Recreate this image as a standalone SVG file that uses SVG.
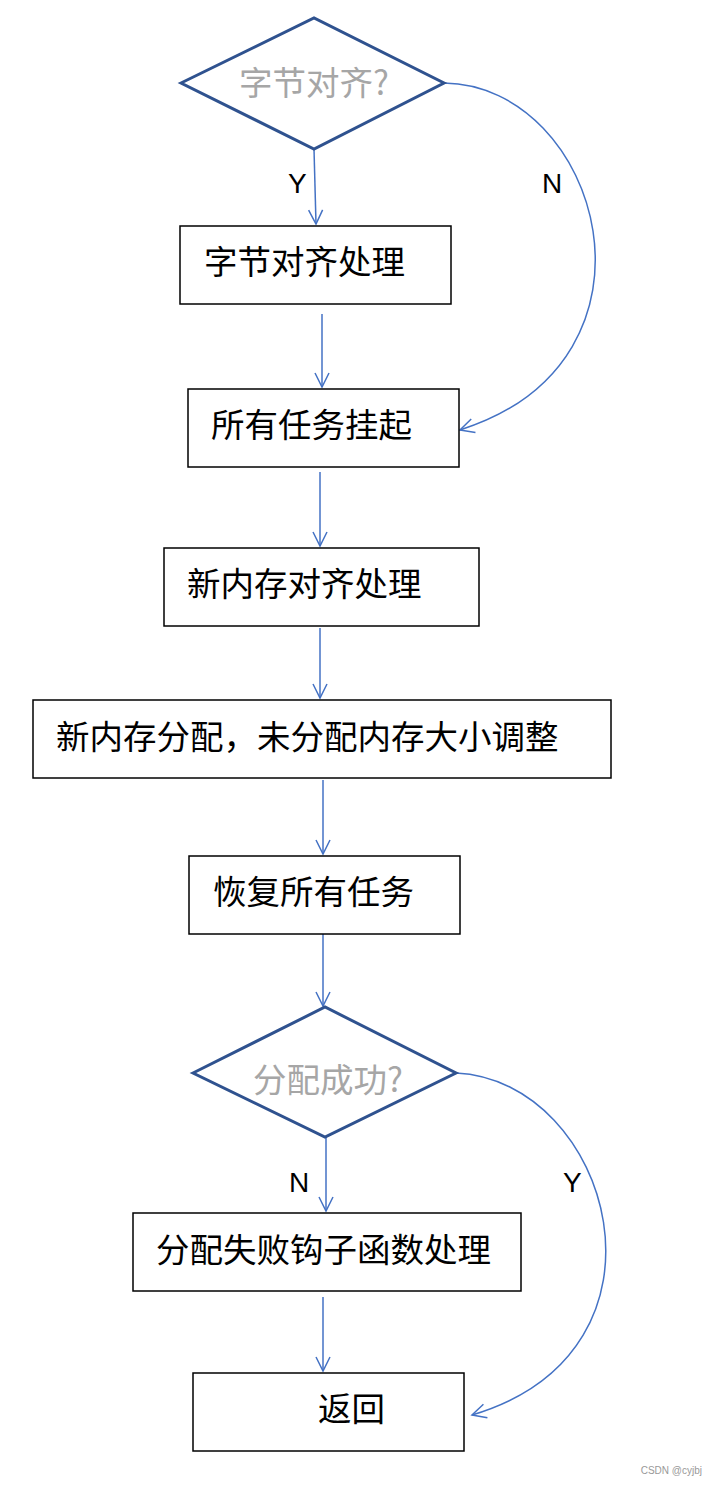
<svg xmlns="http://www.w3.org/2000/svg" width="717" height="1485" viewBox="0 0 717 1485">
<style>
.box{fill:#fff;stroke:#000;stroke-width:1.5}
.dia{fill:#fff;stroke:#2F528F;stroke-width:3}
.t{font-family:"Noto Sans CJK SC","Liberation Sans",sans-serif;font-size:33.5px;fill:#000}
.g{fill:#A6A6A6}
.lbl{font-family:"Liberation Sans",sans-serif;font-size:28px;fill:#000}
.c{fill:none;stroke:#4472C4;stroke-width:1.5;marker-end:url(#a)}
</style>
<defs>
<marker id="a" markerUnits="userSpaceOnUse" markerWidth="20" markerHeight="20" refX="15" refY="8" orient="auto" viewBox="0 0 20 16">
<path d="M1,1 L15,8 L1,15" fill="none" stroke="#4472C4" stroke-width="1.5"/>
</marker>
</defs>
<g id="connectors">
<path class="c" d="M314,149 L316,224"/>
<path class="c" d="M322,314 L322,387"/>
<path class="c" d="M320,472 L320,546"/>
<path class="c" d="M320,628 L320,698"/>
<path class="c" d="M323,780 L323,854"/>
<path class="c" d="M323,934 L323,1006"/>
<path class="c" d="M326,1137 L326,1211"/>
<path class="c" d="M323,1297 L323,1371"/>
<path class="c" d="M444,83 C600,85 680,360 460,430"/>
<path class="c" d="M456,1073 C610,1080 690,1350 472,1415"/>
<text class="lbl" x="288" y="193">Y</text>
<text class="lbl" x="542" y="193">N</text>
<text class="lbl" x="289" y="1192">N</text>
<text class="lbl" x="563" y="1192">Y</text>
</g>
<g id="d1"><polygon class="dia" points="181,83 314,18 444,83 314,149"/><text class="t g" x="314" y="95" text-anchor="middle">字节对齐?</text></g>
<g id="b1"><rect class="box" x="180" y="226" width="271" height="78"/><text class="t" x="204" y="274">字节对齐处理</text></g>
<g id="b2"><rect class="box" x="188" y="389" width="271" height="78"/><text class="t" x="211" y="437">所有任务挂起</text></g>
<g id="b3"><rect class="box" x="164" y="548" width="315" height="78"/><text class="t" x="187" y="596">新内存对齐处理</text></g>
<g id="b4"><rect class="box" x="33" y="700" width="578" height="78"/><text class="t" x="56" y="749">新内存分配，未分配内存大小调整</text></g>
<g id="b5"><rect class="box" x="189" y="856" width="271" height="78"/><text class="t" x="213" y="904">恢复所有任务</text></g>
<g id="d2"><polygon class="dia" points="193,1073 325,1007 456,1073 325,1137"/><text class="t g" x="328" y="1092" text-anchor="middle">分配成功?</text></g>
<g id="b6"><rect class="box" x="133" y="1213" width="388" height="78"/><text class="t" x="156" y="1262">分配失败钩子函数处理</text></g>
<g id="b7"><rect class="box" x="193" y="1373" width="271" height="78"/><text class="t" x="318" y="1421">返回</text></g>
<text x="702" y="1474" text-anchor="end" font-family="Liberation Sans,sans-serif" font-size="10" fill="#999">CSDN @cyjbj</text>
</svg>
